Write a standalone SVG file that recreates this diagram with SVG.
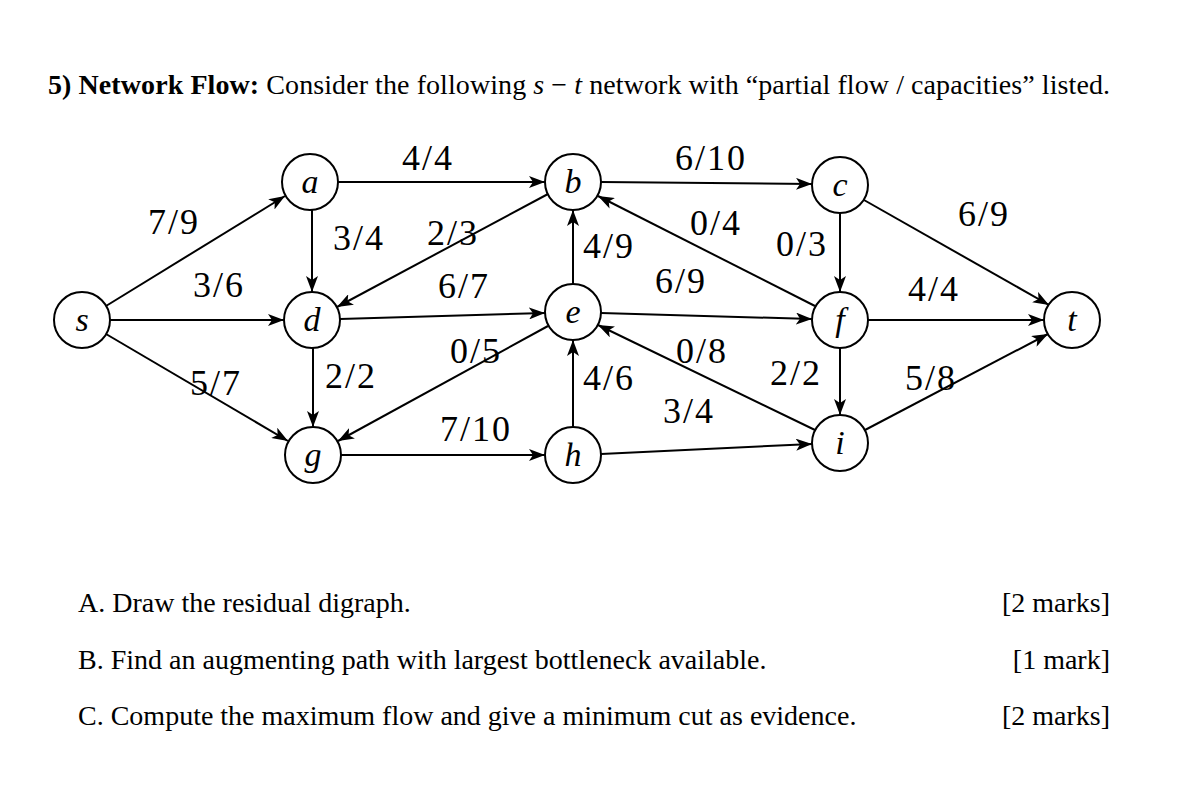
<svg xmlns="http://www.w3.org/2000/svg" width="1202" height="810" viewBox="0 0 1202 810">
<defs>
<marker id="ar" viewBox="0 0 16 12" refX="16" refY="6" markerWidth="16" markerHeight="12" markerUnits="userSpaceOnUse" orient="auto"><path d="M0,0 L16,6 L0,12 L4,6 Z" fill="#000"/></marker>
<style>
.n circle{fill:#fff;stroke:#000;stroke-width:2}
.n text{font-family:"Liberation Serif",serif;font-style:italic;font-size:34px;text-anchor:middle}
.e line{stroke:#000;stroke-width:2;marker-end:url(#ar)}
.l{font-family:"Liberation Serif",serif;font-size:36px;letter-spacing:2px}
.t{font-family:"Liberation Serif",serif;font-size:28px}
</style>
</defs>
<rect width="1202" height="810" fill="#fff"/>
<text class="t" x="48" y="94" textLength="1062"><tspan font-weight="bold">5) Network Flow:</tspan> Consider the following <tspan font-style="italic">s</tspan> − <tspan font-style="italic">t</tspan> network with “partial flow / capacities” listed.</text>
<g id="connectors" class="e">
<line x1="106" y1="306" x2="285" y2="196"/>
<line x1="110" y1="320" x2="284" y2="320"/>
<line x1="106" y1="334" x2="288" y2="441"/>
<line x1="338" y1="182" x2="545" y2="182"/>
<line x1="601" y1="182" x2="812" y2="184"/>
<line x1="312" y1="210" x2="312" y2="292"/>
<line x1="548" y1="194" x2="337" y2="307"/>
<line x1="340" y1="319" x2="545" y2="313"/>
<line x1="573" y1="284" x2="573" y2="210"/>
<line x1="815" y1="306" x2="598" y2="196"/>
<line x1="840" y1="213" x2="840" y2="292"/>
<line x1="601" y1="313" x2="812" y2="319"/>
<line x1="864" y1="200" x2="1049" y2="305"/>
<line x1="868" y1="320" x2="1044" y2="320"/>
<line x1="840" y1="348" x2="840" y2="415"/>
<line x1="865" y1="430" x2="1048" y2="334"/>
<line x1="313" y1="348" x2="313" y2="427"/>
<line x1="548" y1="326" x2="338" y2="441"/>
<line x1="573" y1="427" x2="573" y2="340"/>
<line x1="815" y1="430" x2="598" y2="325"/>
<line x1="341" y1="455" x2="545" y2="455"/>
<line x1="601" y1="454" x2="812" y2="444"/>
</g>
<g class="l">
<text x="402" y="170">4/4</text>
<text x="675" y="170">6/10</text>
<text x="148" y="234">7/9</text>
<text x="193" y="297">3/6</text>
<text x="190" y="395">5/7</text>
<text x="333" y="250">3/4</text>
<text x="427" y="245">2/3</text>
<text x="438" y="298">6/7</text>
<text x="583" y="258">4/9</text>
<text x="690" y="235">0/4</text>
<text x="776" y="256">0/3</text>
<text x="655" y="293">6/9</text>
<text x="958" y="226">6/9</text>
<text x="908" y="301">4/4</text>
<text x="770" y="385">2/2</text>
<text x="905" y="390">5/8</text>
<text x="325" y="388">2/2</text>
<text x="450" y="363">0/5</text>
<text x="583" y="390">4/6</text>
<text x="676" y="363">0/8</text>
<text x="440" y="441">7/10</text>
<text x="663" y="423">3/4</text>
</g>
<g id="s" class="n"><circle cx="82" cy="320" r="28"/><text x="82" y="331">s</text></g>
<g id="a" class="n"><circle cx="310" cy="182" r="28"/><text x="310" y="193">a</text></g>
<g id="b" class="n"><circle cx="573" cy="182" r="28"/><text x="573" y="193">b</text></g>
<g id="c" class="n"><circle cx="840" cy="185" r="28"/><text x="840" y="196">c</text></g>
<g id="d" class="n"><circle cx="312" cy="320" r="28"/><text x="312" y="331">d</text></g>
<g id="e" class="n"><circle cx="573" cy="312" r="28"/><text x="573" y="323">e</text></g>
<g id="f" class="n"><circle cx="840" cy="320" r="28"/><text x="840" y="331">f</text></g>
<g id="t" class="n"><circle cx="1072" cy="320" r="28"/><text x="1072" y="331">t</text></g>
<g id="g" class="n"><circle cx="313" cy="455" r="28"/><text x="313" y="466">g</text></g>
<g id="h" class="n"><circle cx="573" cy="455" r="28"/><text x="573" y="466">h</text></g>
<g id="i" class="n"><circle cx="840" cy="443" r="28"/><text x="840" y="454">i</text></g>
<g class="t">
<text x="78" y="612">A. Draw the residual digraph.</text>
<text x="78" y="669">B. Find an augmenting path with largest bottleneck available.</text>
<text x="78" y="725">C. Compute the maximum flow and give a minimum cut as evidence.</text>
<text x="1110" y="612" text-anchor="end">[2 marks]</text>
<text x="1110" y="669" text-anchor="end">[1 mark]</text>
<text x="1110" y="725" text-anchor="end">[2 marks]</text>
</g>
</svg>
